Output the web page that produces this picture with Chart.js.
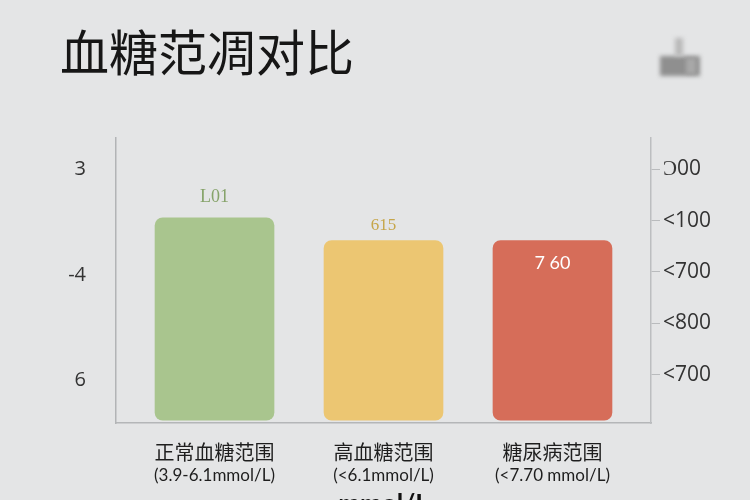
<!DOCTYPE html>
<html><head><meta charset="utf-8">
<script src="https://cdn.jsdelivr.net/npm/chart.js@4"></script>
<style>
html,body{margin:0;padding:0;background:#e4e5e6;overflow:hidden;width:750px;height:500px}
#wrap{position:absolute;left:0;top:0;width:750px;height:519px}
#title{position:absolute;left:60px;top:25px;margin:0;font:400 49px "Noto Sans CJK SC";color:#161616;line-height:1;white-space:nowrap}
.blk{position:absolute;filter:blur(2px);background:#8e8e8e}
</style></head>
<body>
<div id="wrap"><canvas id="c" width="750" height="519"></canvas></div>
<h1 id="title">血糖范凋对比</h1>
<div class="blk" style="left:660px;top:56px;width:40px;height:20px;background:#8f8f8f"></div>
<div class="blk" style="left:675px;top:38px;width:8px;height:18px;background:#b9b9b9"></div>
<div class="blk" style="left:686px;top:58px;width:10px;height:16px;background:#a8a8a8"></div>
<script>
const categories = ["正常血糖范围", "高血糖范围", "糖尿病范围"];
const ranges = ["(3.9-6.1mmol/L)", "(<6.1mmol/L)", "(<7.70 mmol/L)"];
const values = [72, 64, 64];
const valueLabels = ["L01", "615", "7 60"];
const leftTickValues = [15, 52, 89];
const leftTickLabels = ["6", "-4", "3"];
const rightTickValues = [17, 35, 53, 71, 89];
const rightTickLabels = ["<700", "<800", "<700", "<100", "Ɔ00"];
const axisTitle = "mmol/L";

const barColors = ["#a9c58e", "#ecc672", "#d66d59"];
const labelColors = ["#86a36a", "#c6a64a", "#ffffff"];
const labelOffsets = [-21, -15, 23];
const labelFonts = ['18px "Liberation Serif"', '17px "Liberation Serif"', '18px Lato'];

const xMin = -0.583, xMax = 2.583;

const valueLabelPlugin = {
  id: 'valueLabels',
  afterDatasetsDraw(chart) {
    const ctx = chart.ctx;
    const meta = chart.getDatasetMeta(0);
    meta.data.forEach((bar, i) => {
      ctx.save();
      ctx.font = labelFonts[i];
      ctx.fillStyle = labelColors[i];
      ctx.textAlign = 'center';
      ctx.textBaseline = 'middle';
      ctx.fillText(valueLabels[i], bar.x, bar.y + labelOffsets[i]);
      ctx.restore();
    });
  }
};

new Chart(document.getElementById('c'), {
  type: 'bar',
  data: {
    datasets: [{
      data: values.map((v, i) => ({ x: i, y: v })),
      backgroundColor: barColors,
      borderRadius: 8,
      borderSkipped: false,
      base: 1,
      barThickness: 119,
      xAxisID: 'x',
      yAxisID: 'y'
    }]
  },
  options: {
    responsive: false,
    animation: false,
    devicePixelRatio: 1,
    layout: { padding: { top: 138, left: 0, right: 0, bottom: 0 } },
    plugins: { legend: { display: false }, tooltip: { enabled: false }, title: { display: false } },
    scales: {
      x: {
        type: 'linear', position: 'bottom', weight: 0, min: xMin, max: xMax, bounds: 'data', offset: false,
        afterBuildTicks: s => { s.ticks = categories.map((_, i) => ({ value: i })); },
        ticks: { callback: (v, i) => categories[i], font: { family: '"Noto Sans CJK SC"', size: 20 }, color: '#1e1e1e', padding: 17, maxRotation: 0, autoSkip: false },
        grid: { display: false, drawTicks: false, offset: false },
        border: { display: true, color: '#b4b6b8', width: 1.5 },
        afterFit: s => { s.height = 42; }
      },
      x2: {
        type: 'linear', position: 'bottom', weight: 1, min: xMin, max: xMax, bounds: 'data', offset: false,
        afterBuildTicks: s => { s.ticks = ranges.map((_, i) => ({ value: i })); },
        ticks: { callback: (v, i) => ranges[i], font: { family: 'Lato', size: 17 }, color: '#1e1e1e', padding: 0, maxRotation: 0, autoSkip: false },
        grid: { display: false, drawTicks: false, offset: false },
        border: { display: false },
        title: { display: true, text: axisTitle, font: { family: 'Lato', size: 26, weight: 'bold' }, color: '#111', padding: { top: 4, bottom: -1 } },
        afterFit: s => { s.height = 54; }
      },
      y: {
        type: 'linear', position: 'left', min: 0, max: 100, bounds: 'data',
        afterBuildTicks: s => { s.ticks = leftTickValues.map(v => ({ value: v })); },
        ticks: { callback: (v, i) => leftTickLabels[i], font: { family: '"Open Sans"', size: 20 }, color: '#333', padding: 30 },
        grid: { display: false, drawTicks: false },
        border: { display: true, color: '#b2b4b6', width: 1.5 },
        afterFit: s => { s.width = 116; }
      },
      y2: {
        type: 'linear', position: 'right', min: 0, max: 100, bounds: 'data',
        afterBuildTicks: s => { s.ticks = rightTickValues.map(v => ({ value: v })); },
        ticks: { callback: (v, i) => rightTickLabels[i], font: { family: '"Open Sans"', size: 21 }, color: '#333', padding: 3 },
        grid: { display: true, drawOnChartArea: false, drawTicks: true, tickLength: 9, color: '#b9bbbd' },
        border: { display: true, color: '#bcbec0', width: 1.5 },
        afterFit: s => { s.width = 99; }
      }
    }
  },
  plugins: [valueLabelPlugin]
});
</script>
</body></html>
